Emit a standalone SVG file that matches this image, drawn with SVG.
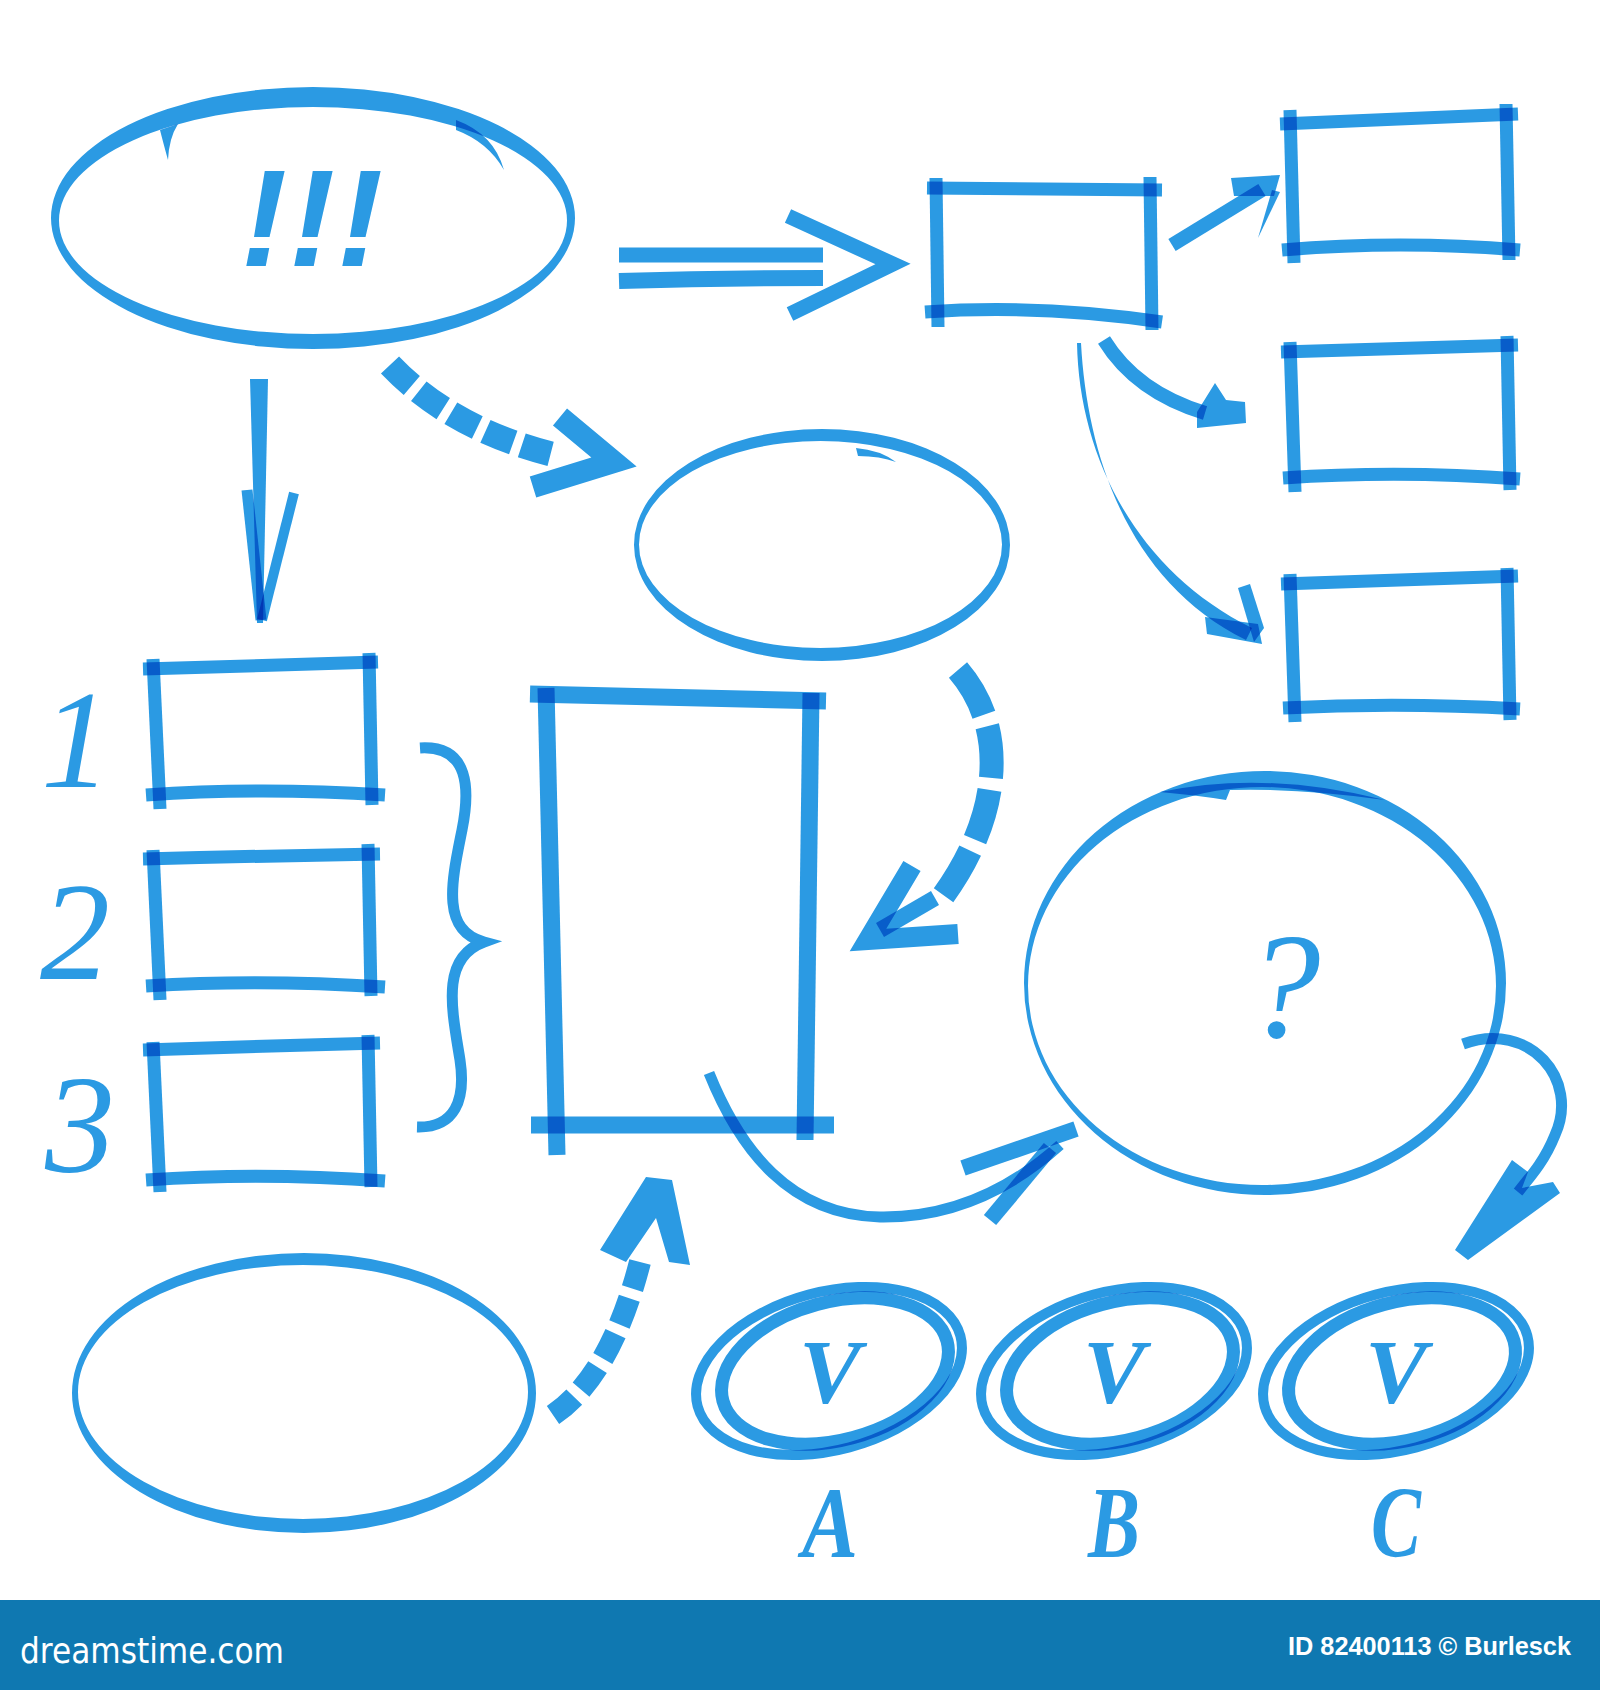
<svg xmlns="http://www.w3.org/2000/svg" width="1600" height="1690" viewBox="0 0 1600 1690">
<style>
.m{fill:none;stroke:#2b9ae3;mix-blend-mode:multiply;stroke-linecap:butt}
.f{fill:#2b9ae3;mix-blend-mode:multiply}
.ring{fill:#2b9ae3;fill-rule:evenodd;mix-blend-mode:multiply}
.side{fill:none;stroke:#2b9ae3;stroke-width:13;mix-blend-mode:multiply}
.thick{stroke-width:17}
.t{fill:#2b9ae3;font-family:"Liberation Serif","DejaVu Serif",serif;font-style:italic;text-anchor:middle;mix-blend-mode:multiply}
.b{font-weight:bold}
</style>
<rect x="0" y="0" width="1600" height="1690" fill="#ffffff"/>

<g id="node-main">
<path class="ring" d="M51,218 a262,131 0 1,0 524,0 a262,131 0 1,0 -524,0 Z M59,220.5 a254,113.5 0 1,0 508,0 a254,113.5 0 1,0 -508,0 Z"/>
<path class="f" d="M160,130 L178,124 Q169,138 168,160 Q163,142 160,130 Z"/>
<path class="f" d="M456,120 Q494,134 504,170 Q488,142 456,130 Z"/>
<text x="313" y="266" style="fill:#2b9ae3;font-family:'Liberation Sans',Arial,sans-serif;font-weight:bold;font-style:italic;font-size:138px;text-anchor:middle;letter-spacing:2px">!!!</text>
</g>

<g id="node-box">
<path class="side" d="M927,188 L1162,190"/>
<path class="side" d="M925,312 Q1040,304 1162,322"/>
<path class="side" d="M936,178 L938,327"/>
<path class="side" d="M1150,177 L1152,330"/>
</g>

<g id="node-r1">
<path class="side" d="M1280,124 Q1400,119 1518,114"/>
<path class="side" d="M1282,250 Q1400,240 1520,250"/>
<path class="side" d="M1290,110 L1294,263"/>
<path class="side" d="M1506,104 L1509,260"/>
</g>
<g id="node-r2">
<path class="side" d="M1281,352 Q1400,348 1518,345"/>
<path class="side" d="M1283,478 Q1400,470 1520,479"/>
<path class="side" d="M1290,342 L1295,492"/>
<path class="side" d="M1507,336 L1510,490"/>
</g>
<g id="node-r3">
<path class="side" d="M1281,584 Q1400,580 1518,576"/>
<path class="side" d="M1283,708 Q1400,702 1520,709"/>
<path class="side" d="M1290,574 L1295,722"/>
<path class="side" d="M1507,568 L1510,720"/>
</g>

<g id="node-oval-mid">
<path class="ring" d="M634,545 a188,116 0 1,0 376,0 a188,116 0 1,0 -376,0 Z M639,544.5 a181.5,103.5 0 1,0 363,0 a181.5,103.5 0 1,0 -363,0 Z"/>
<path class="f" d="M856,448 Q880,450 896,462 Q880,456 858,456 Z"/>
</g>

<g id="node-tall">
<path class="side thick" d="M530,694 L826,701"/>
<path class="side thick" d="M531,1125 L834,1125"/>
<path class="side thick" d="M546,688 L557,1155"/>
<path class="side thick" d="M811,693 L805,1140"/>
</g>

<g id="node-s1">
<path class="side" d="M143,669 Q260,666 378,662"/>
<path class="side" d="M146,795 Q260,787 385,795"/>
<path class="side" d="M153,659 L160,809"/>
<path class="side" d="M369,653 L372,805"/>
</g>
<g id="node-s2">
<path class="side" d="M143,859 Q260,856 380,854"/>
<path class="side" d="M146,986 Q260,979 385,987"/>
<path class="side" d="M153,850 L160,1000"/>
<path class="side" d="M368,844 L371,996"/>
</g>
<g id="node-s3">
<path class="side" d="M143,1050 Q260,1046 380,1043"/>
<path class="side" d="M146,1180 Q260,1172 385,1181"/>
<path class="side" d="M153,1042 L160,1192"/>
<path class="side" d="M368,1035 L371,1187"/>
</g>

<g id="labels-numbers">
<text class="t" x="76" y="787" font-size="140">1</text>
<text class="t" x="75" y="979" font-size="140">2</text>
<text class="t" x="80" y="1172" font-size="140">3</text>
</g>

<g id="brace">
<path class="m" stroke-width="11" d="M420,748 C470,745 470,790 462,830 C452,880 440,930 484,942 C440,958 452,1010 460,1060 C466,1100 455,1128 417,1127"/>
</g>

<g id="node-question">
<path class="ring" d="M1024,983 a241,212 0 1,0 482,0 a241,212 0 1,0 -482,0 Z M1028,986 a234,199 0 1,0 468,0 a234,199 0 1,0 -468,0 Z"/>
<path class="f" d="M1160,792 Q1265,770 1385,800 Q1300,788 1230,790 L1226,800 Q1195,795 1160,792 Z"/>
<text class="t" x="1283" y="1037" font-size="150">?</text>
</g>

<g id="node-oval-bl">
<path class="ring" d="M72,1393 a232,140 0 1,0 464,0 a232,140 0 1,0 -464,0 Z M78,1392 a225,127 0 1,0 450,0 a225,127 0 1,0 -450,0 Z"/>
</g>

<g id="node-check-a">
<ellipse class="m" stroke-width="10" cx="829" cy="1371" rx="136" ry="79" transform="rotate(-15 829 1371)"/>
<ellipse class="m" stroke-width="13" cx="835" cy="1371" rx="116" ry="69" transform="rotate(-15 835 1371)"/>
<text class="t b" x="830" y="1403" font-size="92" textLength="62" lengthAdjust="spacingAndGlyphs">V</text>
<text class="t b" x="830" y="1557" font-size="102" textLength="56" lengthAdjust="spacingAndGlyphs">A</text>
</g>
<g id="node-check-b">
<ellipse class="m" stroke-width="10" cx="1114" cy="1371" rx="136" ry="79" transform="rotate(-15 1114 1371)"/>
<ellipse class="m" stroke-width="13" cx="1120" cy="1371" rx="116" ry="69" transform="rotate(-15 1120 1371)"/>
<text class="t b" x="1114" y="1403" font-size="92" textLength="62" lengthAdjust="spacingAndGlyphs">V</text>
<text class="t b" x="1114" y="1557" font-size="102" textLength="52" lengthAdjust="spacingAndGlyphs">B</text>
</g>
<g id="node-check-c">
<ellipse class="m" stroke-width="10" cx="1396" cy="1371" rx="136" ry="79" transform="rotate(-15 1396 1371)"/>
<ellipse class="m" stroke-width="13" cx="1402" cy="1371" rx="116" ry="69" transform="rotate(-15 1402 1371)"/>
<text class="t b" x="1396" y="1403" font-size="92" textLength="62" lengthAdjust="spacingAndGlyphs">V</text>
<text class="t b" x="1396" y="1557" font-size="102" textLength="50" lengthAdjust="spacingAndGlyphs">C</text>
</g>

<g id="connectors">
<path class="m" stroke-width="15" d="M619,255 L823,255"/>
<path class="m" stroke-width="16" d="M619,281 Q720,278 823,278"/>
<path class="m" stroke-width="15" stroke-linejoin="miter" d="M788,216 L893,264 L790,314"/>
<path class="m" stroke-width="14" d="M1172,245 L1262,190"/>
<path class="f" d="M1231,178 L1280,175 L1274,196 L1234,196 Z"/>
<path class="f" d="M1272,190 L1280,192 L1258,238 Z"/>
<path class="m" stroke-width="14" d="M1104,340 Q1136,392 1205,413"/>
<path class="f" d="M1197,412 L1215,383 L1226,400 L1245,402 L1246,423 L1197,428 Z"/>
<path class="f" d="M1077,343 C1079,455 1135,570 1252,628 L1246,640 C1128,582 1087,455 1081,343 Z"/>
<path class="f" d="M1205,617 L1258,624 L1262,644 L1207,634 Z"/>
<path class="f" d="M1238,588 L1250,584 L1264,628 L1254,642 Z"/>
<path class="f" d="M250,379 L268,379 L263,623 L257,623 Z"/>
<path class="m" stroke-width="11" d="M247,490 L261,620"/>
<path class="m" stroke-width="10" d="M294,493 L262,620"/>
<path class="m" stroke-width="25" stroke-dasharray="30 9" d="M390,365 Q450,428 551,454"/>
<path class="m" stroke-width="22" stroke-linejoin="miter" d="M560,417 L614,462 L533,487"/>
<path class="m" stroke-width="24" stroke-dasharray="52 12" d="M958,670 C1010,730 1000,820 940,900"/>
<path class="m" stroke-width="20" stroke-linejoin="miter" d="M912,866 L868,940 L958,934"/>
<path class="m" stroke-width="16" d="M935,898 L880,930"/>
<path class="m" stroke-width="11" d="M709,1073 C740,1150 790,1215 880,1217 C950,1218 1010,1190 1060,1145"/>
<path class="m" stroke-width="16" d="M963,1168 L1076,1129"/>
<path class="m" stroke-width="16" d="M990,1220 L1050,1148"/>
<path class="m" stroke-width="11" d="M1463,1044 C1530,1020 1580,1080 1555,1135 C1545,1160 1532,1175 1518,1192"/>
<path class="f" d="M1512,1160 L1528,1172 L1522,1188 L1553,1182 L1560,1193 L1468,1260 L1455,1250 Z"/>
<path class="m" stroke-width="22" stroke-dasharray="28 10" d="M553,1415 C590,1390 620,1340 640,1262"/>
<path class="f" d="M600,1250 L646,1177 L672,1180 L690,1265 L669,1262 L656,1218 L626,1262 Z"/>
</g>

<g id="footer">
<rect x="0" y="1600" width="1600" height="90" fill="#0f78b1"/>
<text x="20" y="1663" fill="#ffffff" font-family="'DejaVu Sans','Liberation Sans',sans-serif" font-size="36" textLength="264" lengthAdjust="spacingAndGlyphs">dreamstime.com</text>
<text x="1288" y="1655" fill="#ffffff" font-family="'Liberation Sans Narrow','Liberation Sans',sans-serif" font-weight="bold" font-size="26" textLength="283" lengthAdjust="spacingAndGlyphs">ID 82400113 © Burlesck</text>
</g>
</svg>
